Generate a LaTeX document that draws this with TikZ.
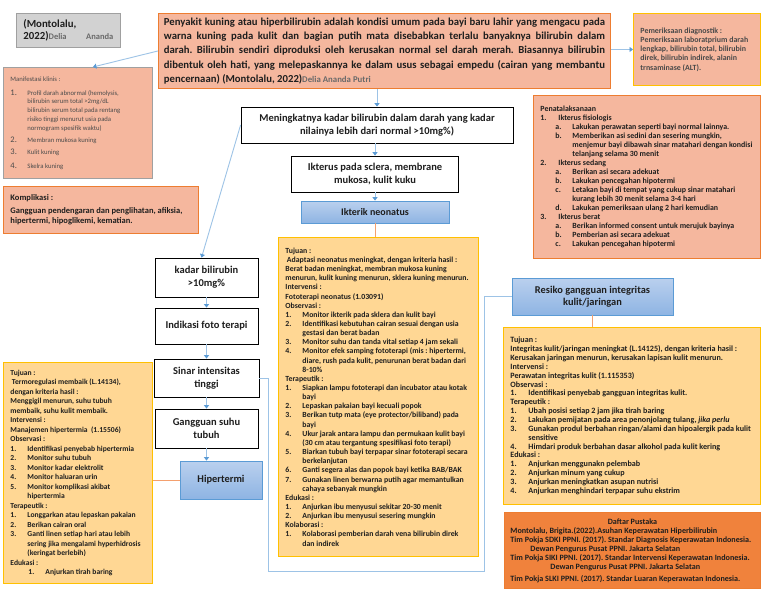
\documentclass[tikz,border=0pt]{standalone}
\usepackage{fontspec}
\setmainfont{Carlito}
\usetikzlibrary{arrows.meta,calc}
\definecolor{salmon}{RGB}{245,183,158}
\definecolor{orgline}{RGB}{237,125,49}
\definecolor{goldline}{RGB}{255,192,0}
\definecolor{peach}{RGB}{255,215,148}
\definecolor{bluetop}{RGB}{186,208,238}
\definecolor{bluebot}{RGB}{142,180,227}
\definecolor{blueline}{RGB}{91,155,213}
\definecolor{connblue}{RGB}{157,195,230}
\definecolor{connorg}{RGB}{244,160,110}
\definecolor{txtgray}{RGB}{105,105,105}
\definecolor{mangray}{RGB}{75,75,75}
\definecolor{dpfill}{RGB}{240,130,60}
\definecolor{boxgray}{RGB}{210,210,210}
\definecolor{bordgray}{RGB}{160,160,160}
\definecolor{ink}{RGB}{30,30,30}
\newlength\numw
\newlength\subind
\newlength\subw
\newcommand\pl[1]{\par\leftskip=0pt\noindent #1}
\newcommand\itm[2]{\par\leftskip=0pt\hangindent=\numw\hangafter=1\noindent\makebox[\numw][l]{#1}#2}
\newcommand\sitm[2]{\par\leftskip=\subind\hangindent=\subw\hangafter=1\noindent\makebox[\subw][l]{#1}#2}
\newcommand\mitm[2]{\par\leftskip=0pt\hangindent=\numw\hangafter=1\noindent\makebox[\numw][l]{\fontsize{8.5}{8.8}\selectfont #1}#2}
\frenchspacing
\begin{document}
\begin{tikzpicture}[x=1pt,y=-1pt,
  every node/.style={inner sep=0pt, text=ink},
  flow/.style={draw=black, line width=0.8pt, fill=white, align=center, font=\fontsize{10.5}{13}\selectfont\bfseries},
  bluebox/.style={draw=blueline, line width=0.8pt, top color=bluetop, bottom color=bluebot, align=center, font=\fontsize{10.4}{12.5}\selectfont\bfseries},
  salbox/.style={draw=orgline, line width=0.9pt, fill=salmon, anchor=north west},
  yelbox/.style={draw=goldline, line width=0.9pt, fill=peach, anchor=north west},
  conn/.style={draw=connblue, line width=0.9pt},
  arr/.style={conn, -{Triangle[width=5pt,length=3.5pt,color=blueline]}},
  oconn/.style={draw=connorg, line width=1pt}
]
\fill[white] (0,0) rectangle (768,594);
\useasboundingbox (0,0) rectangle (768,594);

% reference box
\node[draw=bordgray, line width=0.8pt, fill=boxgray, anchor=north west, minimum width=104pt, minimum height=34pt] (refbox) at (16,13)
 {\parbox{90pt}{\fontsize{10.8}{11.5}\selectfont\bfseries (Montolalu,\\2022){\color{txtgray}\fontsize{8.5}{9}\selectfont Delia\hfill Ananda}}};

% intro box
\node[salbox, minimum width=452pt, minimum height=75pt] (intro) at (158,13)
 {\parbox{441pt}{\fontsize{10.7}{14.3}\selectfont\bfseries\tolerance=10000\hyphenpenalty=10000
 Penyakit kuning atau hiperbilirubin adalah kondisi umum pada bayi baru lahir yang mengacu pada\linebreak
 warna kuning pada kulit dan bagian putih mata disebabkan terlalu banyaknya bilirubin dalam\linebreak
 darah. Bilirubin sendiri diproduksi oleh kerusakan normal sel darah merah. Biasannya bilirubin\linebreak
 dibentuk oleh hati, yang melepaskannya ke dalam usus sebagai empedu (cairan yang membantu\linebreak
 pencernaan) (Montolalu, 2022){\color{txtgray}\fontsize{8.8}{10}\selectfont Delia Ananda Putri}}};

% diagnostic box
\node[draw=goldline, line width=0.9pt, fill=salmon, anchor=north west, minimum width=127pt, minimum height=72pt] (diag) at (633,13)
 {\parbox{113pt}{\fontsize{7.9}{9.3}\selectfont\bfseries\color{txtgray!70!black}
 Pemeriksaan diagnostik :\\ Pemeriksaan laboratprium darah\\ lengkap, bilirubin total, bilirubin\\ direk, bilirubin indirek, alanin\\ trnsaminase (ALT).}};

% manifestasi
\node[draw=bordgray, line width=0.9pt, fill=salmon, anchor=north west, minimum width=149pt, minimum height=111pt] (manif) at (3,67)
 {\parbox{135pt}{\color{mangray}\fontsize{6.7}{8.8}\selectfont\raggedright\setlength\numw{17pt}
 \pl{Manifestasi klinis :}\par\vspace{5pt}
 \mitm{1.}{Profil darah abnormal (hemolysis,\newline bilirubin serum total >2mg/dL\newline bilirubin serum total pada rentang\newline risiko tinggi menurut usia pada\newline normogram spesifik waktu)}\par\vspace{3.5pt}
 \mitm{2.}{Membran mukosa kuning}\par\vspace{3.5pt}
 \mitm{3.}{Kulit kuning}\par\vspace{4.5pt}
 \mitm{4.}{Skelra kuning}}};

% komplikasi
\node[salbox, minimum width=195pt, minimum height=47pt] (komp) at (3,186)
 {\parbox{181pt}{\fontsize{8.5}{10}\selectfont\bfseries
 Komplikasi :\\[3pt] Gangguan pendengaran dan penglihatan, afiksia,\\ hipertermi, hipoglikemi, kematian.}};

% penatalaksanaan
\node[salbox, minimum width=227pt, minimum height=163pt] (penat) at (533,95)
 {\parbox{213pt}{\fontsize{7.9}{9.05}\selectfont\bfseries\raggedright\setlength\numw{18pt}\setlength\subind{15pt}\setlength\subw{17pt}
 \pl{Penatalaksanaan}
 \itm{1.}{Ikterus fisiologis}
 \sitm{a.}{Lakukan perawatan seperti bayi normal lainnya.}
 \sitm{b.}{Memberikan asi sedini dan sesering mungkin,\newline menjemur bayi dibawah sinar matahari dengan kondisi\newline telanjang selama 30 menit}
 \itm{2.}{Ikterus sedang}
 \sitm{a.}{Berikan asi secara adekuat}
 \sitm{b.}{Lakukan pencegahan hipotermi}
 \sitm{c.}{Letakan bayi di tempat yang cukup sinar matahari\newline kurang lebih 30 menit selama 3-4 hari}
 \sitm{d.}{Lakukan pemeriksaan ulang 2 hari kemudian}
 \itm{3.}{Ikterus berat}
 \sitm{a.}{Berikan informed consent untuk merujuk bayinya}
 \sitm{b.}{Pemberian asi secara adekuat}
 \sitm{c.}{Lakukan pencegahan hipotermi}}};

% central flow
\node[flow, minimum width=272pt, minimum height=36pt] (rise) at (377,125) {Meningkatnya kadar bilirubin dalam darah yang kadar\\nilainya lebih dari normal >10mg\%)};
\node[flow, minimum width=167pt, minimum height=36pt] (scl) at (375,174) {Ikterus pada sclera, membrane\\mukosa, kulit kuku};
\node[bluebox, minimum width=148pt, minimum height=22pt, font=\fontsize{10}{12}\selectfont\bfseries] (ikt) at (375,212) {Ikterik neonatus};

% central tujuan
\node[yelbox, minimum width=200pt, minimum height=319pt] (tujc) at (278,237)
 {\parbox{186pt}{\fontsize{7.8}{9.15}\selectfont\bfseries\raggedright\setlength\numw{17pt}
 \pl{Tujuan :}
 \pl{\hspace{1.5pt}Adaptasi neonatus meningkat, dengan kriteria hasil :}
 \pl{Berat badan meningkat, membran mukosa kuning}
 \pl{menurun, kulit kuning menurun, sklera kuning menurun.}
 \pl{Intervensi :}
 \pl{Fototerapi neonatus (1.03091)}
 \pl{Observasi :}
 \itm{1.}{Monitor ikterik pada sklera dan kulit bayi}
 \itm{2.}{Identifikasi kebutuhan cairan sesuai dengan usia\newline gestasi dan berat badan}
 \itm{3.}{Monitor suhu dan tanda vital setiap 4 jam sekali}
 \itm{4.}{Monitor efek samping fototerapi (mis : hipertermi,\newline diare, rush pada kulit, penurunan berat badan dari\newline 8-10\%}
 \pl{Terapeutik :}
 \itm{1.}{Siapkan lampu fototerapi dan incubator atau kotak\newline bayi}
 \itm{2.}{Lepaskan pakaian bayi kecuali popok}
 \itm{3.}{Berikan tutp mata (eye protector/biliband) pada\newline bayi}
 \itm{4.}{Ukur jarak antara lampu dan permukaan kulit bayi\newline (30 cm atau tergantung spesifikasi foto terapi)}
 \itm{5.}{Biarkan tubuh bayi terpapar sinar fototerapi secara\newline berkelanjutan}
 \itm{6.}{Ganti segera alas dan popok bayi ketika BAB/BAK}
 \itm{7.}{Gunakan linen berwarna putih agar memantulkan\newline cahaya sebanyak mungkin}
 \pl{Edukasi :}
 \itm{1.}{Anjurkan ibu menyusui sekitar 20-30 menit}
 \itm{2.}{Anjurkan ibu menyusui sesering mungkin}
 \pl{Kolaborasi :}
 \itm{1.}{Kolaborasi pemberian darah vena bilirubin direk\newline dan indirek}}};

% left flow
\node[flow, minimum width=103pt, minimum height=39pt] (kadar) at (206.5,277.5) {kadar bilirubin\\>10mg\%};
\node[flow, minimum width=103pt, minimum height=36pt] (indik) at (206.5,326) {Indikasi foto terapi};
\node[flow, minimum width=105pt, minimum height=38pt] (sinar) at (206.5,378) {Sinar intensitas\\tinggi};
\node[flow, minimum width=103pt, minimum height=39pt] (gang) at (206.5,428.5) {Gangguan suhu\\tubuh};
\node[bluebox, minimum width=82pt, minimum height=38pt] (hiper) at (221,480) {Hipertermi};

% left tujuan
\node[yelbox, minimum width=149pt, minimum height=221pt] (tujl) at (3,362)
 {\parbox{135pt}{\fontsize{7.6}{9.5}\selectfont\bfseries\raggedright\setlength\numw{17pt}\setlength\subind{18pt}\setlength\subw{17pt}
 \pl{Tujuan :}
 \pl{\hspace{1.5pt}Termoregulasi membaik (L.14134),}
 \pl{dengan kriteria hasil :}
 \pl{Menggigil menurun, suhu tubuh}
 \pl{membaik, suhu kulit membaik.}
 \pl{Intervensi :}
 \pl{Manajemen hipertermia\ \ (1.15506)}
 \pl{Observasi :}
 \itm{1.}{Identifikasi penyebab hipertermia}
 \itm{2.}{Monitor suhu tubuh}
 \itm{3.}{Monitor kadar elektrolit}
 \itm{4.}{Monitor haluaran urin}
 \itm{5.}{Monitor komplikasi akibat\newline hipertermia}
 \pl{Terapeutik :}
 \itm{1.}{Longgarkan atau lepaskan pakaian}
 \itm{2.}{Berikan cairan oral}
 \itm{3.}{Ganti linen setiap hari atau lebih\newline sering jika mengalami hyperhidrosis\newline (keringat berlebih)}
 \pl{Edukasi :}
 \sitm{1.}{Anjurkan tirah baring}}};

% right side
\node[bluebox, minimum width=161pt, minimum height=37pt] (resiko) at (592.5,296.5) {Resiko gangguan integritas\\kulit/jaringan};
\node[yelbox, minimum width=257pt, minimum height=177pt] (tujr) at (503,327)
 {\parbox{243pt}{\fontsize{8.1}{8.85}\selectfont\bfseries\raggedright\setlength\numw{18pt}
 \pl{Tujuan :}
 \pl{Integritas kulit/jaringan meningkat (L.14125), dengan kriteria hasil :}
 \pl{Kerusakan jaringan menurun, kerusakan lapisan kulit menurun.}
 \pl{Intervensi :}
 \pl{Perawatan integritas kulit (1.115353)}
 \pl{Observasi :}
 \itm{1.}{Identifikasi penyebab gangguan integritas kulit.}
 \pl{Terapeutik :}
 \itm{1.}{Ubah posisi setiap 2 jam jika tirah baring}
 \itm{2.}{Lakukan pemijatan pada area penonjolang tulang, \textit{jika perlu}}
 \itm{3.}{Gunakan produl berbahan ringan/alami dan hipoalergik pada kulit\newline sensitive}
 \itm{4.}{Himdari produk berbahan dasar alkohol pada kulit kering}
 \pl{Edukasi :}
 \itm{1.}{Anjurkan menggunakn pelembab}
 \itm{2.}{Anjurkan minum yang cukup}
 \itm{3.}{Anjurkan meningkatkan asupan nutrisi}
 \itm{4.}{Anjurkan menghindari terpapar suhu ekstrim}}};

% daftar pustaka
\node[draw=orgline, line width=0.9pt, fill=dpfill, anchor=north west, minimum width=256pt, minimum height=76pt] (dp) at (504,512)
 {\parbox{244pt}{\fontsize{8.1}{9}\selectfont\bfseries\raggedright
 \centerline{Daftar Pustaka}
 Montolalu, Brigita.(2022).Asuhan Keperawatan Hiperbilirubin\\
 Tim Pokja SDKI PPNI. (2017). Standar Diagnosis Keperawatan Indonesia.\\
 \hspace*{20pt}Dewan Pengurus Pusat PPNI. Jakarta Selatan\\
 Tim Pokja SIKI PPNI. (2017). Standar Intervensi Keperawatan Indonesia.\\
 \hspace*{40pt}Dewan Pengurus Pusat PPNI. Jakarta Selatan\\[3pt]
 Tim Pokja SLKI PPNI. (2017). Standar Luaran Keperawatan Indonesia.}};

% connectors
\coordinate (cbl) at (268,571);
\coordinate (cbr) at (484,571);
\draw[arr] (intro.south -| rise.north) -- (rise.north);
\draw[arr] (rise.south -| scl.north) -- (scl.north);
\draw[arr] (scl.south -| ikt.north) -- (ikt.north);
\draw[oconn] (ikt.south) -- (ikt.south |- tujc.north);
\draw[arr] (intro.east |- diag.west) -- (diag.west);
\draw[arr] (intro.west) -- ($(manif.north)+(15,0)$);
\draw[arr] (rise.west) -- ($(kadar.north)+(-5,0)$);
\draw[arr] (kadar.south) -- (indik.north);
\draw[arr] (indik.south) -- (sinar.north);
\draw[arr] (sinar.south) -- (gang.north);
\draw[arr] (gang.south) -- (gang.south |- hiper.north);
\draw[oconn] (hiper.west) -- (hiper.west -| tujl.east);
\draw[conn] (sinar.east) -| (cbl) -- (cbr) |- (resiko.west);
\draw[oconn] (resiko.south) -- (resiko.south |- tujr.north);
\end{tikzpicture}
\end{document}
